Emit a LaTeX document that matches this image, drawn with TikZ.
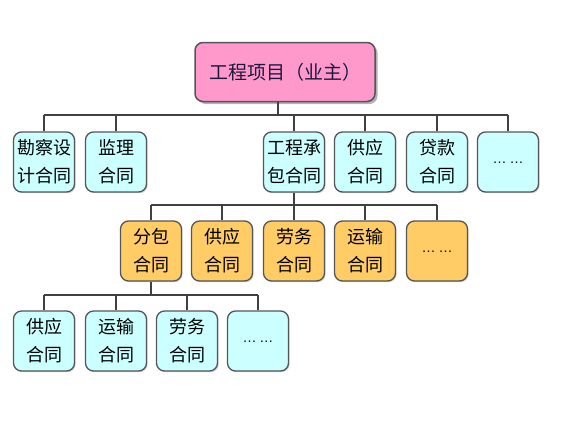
\documentclass[tikz,border=0pt]{standalone}
\usepackage{fontspec}
\newfontfamily\cjk{Noto Sans CJK SC}
\newfontfamily\dotsfont{Liberation Sans}
\usetikzlibrary{shadows}
\definecolor{cyanfill}{HTML}{CCFFFF}
\definecolor{orangefill}{HTML}{FFCC66}
\definecolor{pinkfill}{HTML}{FF99CC}
\definecolor{bordergray}{HTML}{555555}
\definecolor{linegray}{HTML}{404040}
\definecolor{toptext}{HTML}{1A1A40}
\tikzset{
  x=1pt, y=-1pt,
  cbox/.style={draw=bordergray, line width=1.3pt, rounded corners=8pt,
    minimum width=61pt, minimum height=60pt, inner sep=0pt, align=center,
    font=\cjk\fontsize{18}{28}\selectfont, text=black,
    drop shadow={shadow xshift=1.2pt, shadow yshift=-1.2pt, opacity=0.35}},
  leafbox/.style={cbox, fill=cyanfill},
  subbox/.style={cbox, fill=orangefill},
  topbox/.style={draw=bordergray, line width=1.5pt, rounded corners=8pt,
    fill=pinkfill, minimum width=180pt, minimum height=59pt, inner sep=0pt,
    font=\cjk\fontsize{19}{22}\selectfont, text=toptext,
    drop shadow={shadow xshift=2.5pt, shadow yshift=-2.5pt, opacity=0.6}},
  conn/.style={draw=linegray, line width=1.2pt}
}
\newcommand{\mydots}{{\dotsfont\fontsize{14}{16}\selectfont\raisebox{-2pt}{\ldots\hspace{3pt}\ldots}}}
\begin{document}
\begin{tikzpicture}
\useasboundingbox (0,0) rectangle (576,432);
% top
\node[topbox] (top) at (285,72) {工程项目（业主）};
% row 1
\node[leafbox] (r1a) at (44,162) {勘察设\\计合同};
\node[leafbox] (r1b) at (116,162) {监理\\合同};
\node[leafbox] (r1c) at (294,162) {工程承\\包合同};
\node[leafbox] (r1d) at (365,162) {供应\\合同};
\node[leafbox] (r1e) at (437,162) {贷款\\合同};
\node[leafbox] (r1f) at (508,162) {\mydots};
% row 2
\node[subbox] (r2a) at (151,251) {分包\\合同};
\node[subbox] (r2b) at (222,251) {供应\\合同};
\node[subbox] (r2c) at (294,251) {劳务\\合同};
\node[subbox] (r2d) at (365,251) {运输\\合同};
\node[subbox] (r2e) at (437,251) {\mydots};
% row 3
\node[leafbox] (r3a) at (44,341) {供应\\合同};
\node[leafbox] (r3b) at (116,341) {运输\\合同};
\node[leafbox] (r3c) at (187,341) {劳务\\合同};
\node[leafbox] (r3d) at (258,341) {\mydots};
% buses
\coordinate (bus1) at (278,115);
\coordinate (bus2) at (0,205);
\coordinate (bus3) at (0,295);
\draw[conn] (top.south -| bus1) -- (bus1);
\draw[conn] (r1a.north |- bus1) -- (r1f.north |- bus1);
\foreach \n in {r1a,r1b,r1c,r1d,r1e,r1f} \draw[conn] (\n.north) -- (\n.north |- bus1);
\draw[conn] (r1c.south) -- (r1c.south |- bus2);
\draw[conn] (r2a.north |- bus2) -- (r2e.north |- bus2);
\foreach \n in {r2a,r2b,r2c,r2d,r2e} \draw[conn] (\n.north) -- (\n.north |- bus2);
\draw[conn] (r2a.south) -- (r2a.south |- bus3);
\draw[conn] (r3a.north |- bus3) -- (r3d.north |- bus3);
\foreach \n in {r3a,r3b,r3c,r3d} \draw[conn] (\n.north) -- (\n.north |- bus3);
\end{tikzpicture}
\end{document}
